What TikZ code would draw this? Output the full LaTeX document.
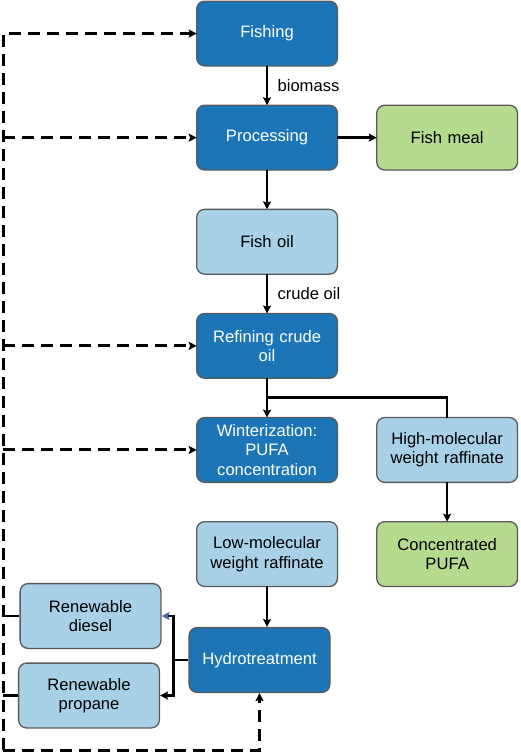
\documentclass[tikz,border=0pt]{standalone}
\usepackage{fontspec}
\setmainfont{Liberation Sans}
\usetikzlibrary{matrix,positioning,arrows.meta}

\definecolor{procblue}{HTML}{1B75B6}
\definecolor{prodblue}{HTML}{A8D1E7}
\definecolor{prodgreen}{HTML}{B6DA8E}
\definecolor{edgegray}{HTML}{5A5A5A}
\definecolor{tipblue}{HTML}{4A6AA5}

\begin{document}
\begin{tikzpicture}[x=1pt,y=-1pt,
    font=\fontsize{16.6}{19.5}\selectfont,
    >={Stealth[length=8pt,width=8pt,inset=1.5pt]},
    box/.style={draw=edgegray,line width=1.3pt,rounded corners=8pt,
      minimum width=140.8pt,minimum height=64.8pt,text width=134pt,
      align=center,inner sep=2pt},
    proc/.style={box,fill=procblue,text=white},
    prod/.style={box,fill=prodblue},
    meal/.style={box,fill=prodgreen},
    flow/.style={line width=2.4pt},
    recycle/.style={line width=3pt,dash pattern=on 12pt off 7pt}]
  \useasboundingbox (0,0) rectangle (520,752);

  \matrix (m) [matrix of nodes,anchor=north west,inner sep=0pt,outer sep=0pt,
    row sep=38pt,column sep=38pt,nodes={anchor=center}] at (196,0.5)
  {
     |[proc]| Fishing & \\
     |[proc]| Processing & |[meal]| Fish meal \\
     |[prod]| Fish oil & \\
     |[proc]| {Refining crude\\oil} & \\
     |[proc]| {Winterization:\\PUFA\\concentration} & |[prod]| {High-molecular\\weight raffinate} \\
     |[prod]| {Low-molecular\\weight raffinate} & |[meal]| {Concentrated\\PUFA} \\
  };

  \node[proc] (hydro) at (259.5,660) {Hydrotreatment};
  \node[prod] (diesel) at (90.5,616) {Renewable\\diesel};
  \node[prod] (propane) at (89,695.5) {Renewable\\propane};
  \coordinate (loop) at (3,750);

  \path[flow,->]
    (m-1-1) edge node [right=6pt] {biomass} (m-2-1)
    (m-2-1) edge (m-2-2)
            edge (m-3-1)
    (m-3-1) edge node [right=6pt] {crude oil} (m-4-1)
    (m-4-1) edge (m-5-1)
    (m-5-2) edge (m-6-2);
  \draw[flow] (m-5-2.north) -- ++(0,-20) -| (m-4-1.south);
  \draw[flow,->] (m-6-1.south) -- (m-6-1.south |- hydro.north);

  \draw[flow,->] (hydro.west) -- ++(-15,0) |- (propane.east);
  \draw[flow,-{Stealth[length=8pt,width=8pt,inset=1.5pt,color=tipblue]}]
    (hydro.west) -- ++(-15,0) |- (diesel.east);

  % recycled fuel back to every step
  \draw[recycle,->] (loop) |- (m-1-1);
  \draw[recycle,->] (m-2-1 -| loop) -- (m-2-1);
  \draw[recycle,->] (m-4-1 -| loop) -- (m-4-1);
  \draw[recycle,->] (m-5-1 -| loop) -- (m-5-1);
  \draw[recycle,->] (loop) -| (hydro);
  \draw[flow] (diesel) -- (diesel -| loop);
  \draw[flow] (propane) -- (propane -| loop);
\end{tikzpicture}
\end{document}
